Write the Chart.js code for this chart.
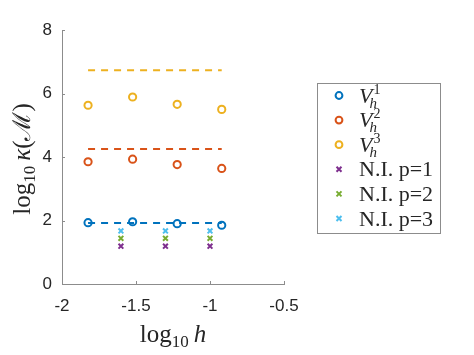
<!DOCTYPE html>
<html>
<head>
<meta charset="utf-8">
<script src="https://cdn.jsdelivr.net/npm/chart.js@4/dist/chart.umd.min.js"></script>
<style>
html,body{margin:0;padding:0;background:#fff;}
#wrap{width:474px;height:355px;position:relative;}
</style>
</head>
<body>
<div id="wrap"><canvas id="c" width="474" height="355"></canvas></div>
<script>
// ---- data ----
const hV = [-1.8239, -1.5229, -1.2218, -0.9208];
const kappaV1 = [1.93, 1.96, 1.90, 1.85];
const kappaV2 = [3.85, 3.93, 3.76, 3.64];
const kappaV3 = [5.63, 5.89, 5.66, 5.50];
const hNI = [-1.602, -1.301, -1.0];
const kappaNI1 = [1.19, 1.19, 1.19];
const kappaNI2 = [1.44, 1.44, 1.44];
const kappaNI3 = [1.67, 1.67, 1.67];
const refLevels = [1.92, 4.25, 6.73];
const xTicks = [-2, -1.5, -1, -0.5];
const yTicks = [0, 2, 4, 6, 8];
const legendLabels = ['V1', 'V2', 'V3', 'N.I. p=1', 'N.I. p=2', 'N.I. p=3'];

const colors = ['#0072BD', '#D95319', '#EDB120', '#7E2F8E', '#77AC30', '#4DBEEE'];

const pts = (xs, ys) => xs.map((x, i) => ({x: x, y: ys[i]}));
const refLine = (lvl) => [{x: hV[0], y: lvl}, {x: hV[hV.length - 1], y: lvl}];

const circleDs = (label, ys, col) => ({
  type: 'scatter', label: label, data: pts(hV, ys),
  pointStyle: 'circle', pointRadius: 3.6, borderWidth: 2,
  borderColor: col, backgroundColor: 'rgba(255,255,255,0)', order: 1
});
const crossDs = (label, ys, col) => ({
  type: 'scatter', label: label, data: pts(hNI, ys),
  pointStyle: 'crossRot', pointRadius: 3.4, borderWidth: 2,
  borderColor: col, backgroundColor: col, order: 1
});
const dashDs = (lvl, col) => ({
  type: 'line', label: '', data: refLine(lvl), borderColor: col,
  borderWidth: 2, borderDash: [7, 6], pointRadius: 0, fill: false, order: 2,
  isRef: true
});

const datasets = [
  dashDs(refLevels[0], colors[0]),
  dashDs(refLevels[1], colors[1]),
  dashDs(refLevels[2], colors[2]),
  circleDs(legendLabels[0], kappaV1, colors[0]),
  circleDs(legendLabels[1], kappaV2, colors[1]),
  circleDs(legendLabels[2], kappaV3, colors[2]),
  crossDs(legendLabels[3], kappaNI1, colors[3]),
  crossDs(legendLabels[4], kappaNI2, colors[4]),
  crossDs(legendLabels[5], kappaNI3, colors[5])
];

const SERIF = '"Liberation Serif", "DejaVu Serif", serif';

function drawRich(ctx, segs, x, y, align) {
  let total = 0;
  segs.forEach(s => { ctx.font = s.font; s.w = ctx.measureText(s.t).width; total += s.w + (s.gap || 0); });
  let cx = align === 'center' ? x - total / 2 : x;
  segs.forEach(s => {
    ctx.font = s.font;
    ctx.fillText(s.t, cx, y + (s.dy || 0));
    cx += s.w + (s.gap || 0);
  });
}

const deco = {
  id: 'deco',
  afterDraw(chart) {
    const ctx = chart.ctx;
    const xs = chart.scales.x, ys = chart.scales.y;
    const ca = chart.chartArea;
    ctx.save();
    ctx.strokeStyle = '#8c8c8c';
    ctx.lineWidth = 1;
    xTicks.forEach(v => {
      const px = Math.round(xs.getPixelForValue(v)) + 0.5;
      ctx.beginPath(); ctx.moveTo(px, ca.bottom); ctx.lineTo(px, ca.bottom - 3); ctx.stroke();
    });
    yTicks.forEach(v => {
      const py = Math.round(ys.getPixelForValue(v)) + 0.5;
      ctx.beginPath(); ctx.moveTo(ca.left, py); ctx.lineTo(ca.left + 3, py); ctx.stroke();
    });
    ctx.fillStyle = '#262626';
    ctx.textBaseline = 'alphabetic';
    ctx.textAlign = 'left';
    drawRich(ctx, [
      {t: 'log', font: '25px ' + SERIF},
      {t: '10', font: '17px ' + SERIF, dy: 5, gap: 5},
      {t: 'h', font: 'italic 25px ' + SERIF}
    ], (ca.left + ca.right) / 2, 342, 'center');
    ctx.save();
    ctx.translate(30, (ca.top + ca.bottom) / 2 + 2);
    ctx.rotate(-Math.PI / 2);
    drawRich(ctx, [
      {t: 'log', font: '25px ' + SERIF},
      {t: '10', font: '17px ' + SERIF, dy: 5, gap: 5},
      {t: 'κ', font: 'italic 25px ' + SERIF},
      {t: '(', font: '25px ' + SERIF},
      {t: 'ℳ', font: '25px ' + SERIF},
      {t: ')', font: '25px ' + SERIF}
    ], 0, 0, 'center');
    ctx.restore();

    // legend
    const lx = 317.5, ly = 83.5, lw = 123, lh = 150;
    ctx.fillStyle = '#ffffff';
    ctx.fillRect(lx, ly, lw, lh);
    ctx.strokeStyle = '#8c8c8c';
    ctx.lineWidth = 1;
    ctx.strokeRect(lx, ly, lw, lh);
    const legendDs = chart.data.datasets.filter(d => !d.isRef);
    legendDs.forEach((d, i) => {
      const cy = 95.5 + i * 24.6;
      const mx = 339;
      ctx.strokeStyle = d.borderColor;
      ctx.lineWidth = 2;
      if (d.pointStyle === 'circle') {
        ctx.beginPath(); ctx.arc(mx, cy, 3.4, 0, Math.PI * 2); ctx.stroke();
      } else {
        const r = 2.5;
        ctx.beginPath();
        ctx.moveTo(mx - r, cy - r); ctx.lineTo(mx + r, cy + r);
        ctx.moveTo(mx - r, cy + r); ctx.lineTo(mx + r, cy - r);
        ctx.stroke();
      }
      ctx.fillStyle = '#262626';
      const tx = 359;
      if (d.label.startsWith('V')) {
        ctx.font = 'italic 22px ' + SERIF;
        ctx.fillText('V', tx, cy + 7);
        const vw = ctx.measureText('V').width;
        ctx.font = '14px ' + SERIF;
        ctx.fillText(d.label.slice(1), tx + vw + 1, cy - 2);
        ctx.font = 'italic 15px ' + SERIF;
        ctx.fillText('h', tx + vw - 3, cy + 12);
      } else {
        ctx.font = '22px ' + SERIF;
        ctx.fillText(d.label, tx, cy + 7);
      }
    });
    ctx.restore();
  }
};

new Chart(document.getElementById('c'), {
  type: 'scatter',
  data: {datasets: datasets},
  options: {
    responsive: false,
    animation: false,
    devicePixelRatio: 1,
    layout: {padding: {top: 30, right: 190, left: 0, bottom: 0}},
    plugins: {legend: {display: false}, tooltip: {enabled: false}, title: {display: false}},
    scales: {
      x: {
        type: 'linear', min: -2, max: -0.5,
        afterBuildTicks: (s) => { s.ticks = xTicks.map(v => ({value: v})); },
        afterFit: (s) => { s.height = 71; },
        grid: {display: false, drawTicks: false},
        border: {display: true, color: '#8c8c8c', width: 1},
        ticks: {
          padding: 12, color: '#262626', maxRotation: 0, autoSkip: false,
          font: {family: '"Liberation Sans", Arial, sans-serif', size: 17},
          callback: (v) => String(v)
        }
      },
      y: {
        type: 'linear', min: 0, max: 8,
        afterBuildTicks: (s) => { s.ticks = yTicks.map(v => ({value: v})); },
        afterFit: (s) => { s.width = 62; },
        grid: {display: false, drawTicks: false},
        border: {display: true, color: '#8c8c8c', width: 1},
        ticks: {
          padding: 10, color: '#262626', autoSkip: false,
          font: {family: '"Liberation Sans", Arial, sans-serif', size: 17},
          callback: (v) => String(v)
        }
      }
    }
  },
  plugins: [deco]
});
</script>
</body>
</html>
